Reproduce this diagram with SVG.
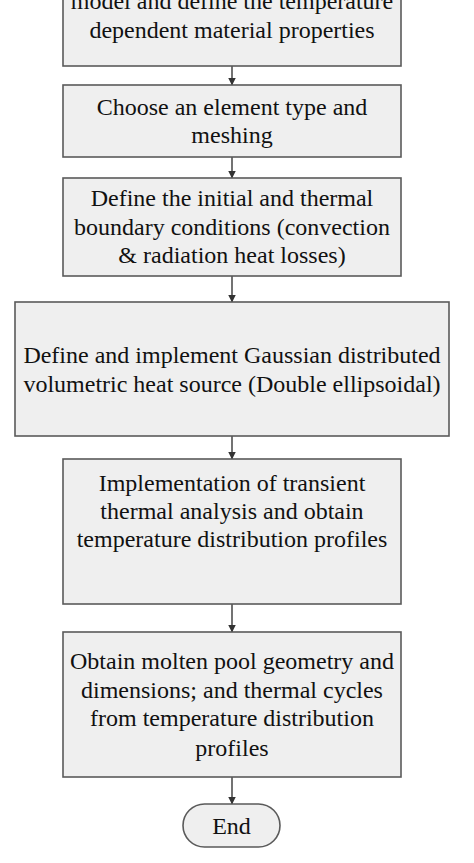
<svg xmlns="http://www.w3.org/2000/svg" width="474" height="863" viewBox="0 0 474 863">
<style>
.box{fill:#efefef;stroke:#5a5a5a;stroke-width:1.6}
.t{font-family:"Liberation Serif","Times New Roman",serif;font-size:24px;fill:#111;text-anchor:middle}
.c{stroke:#444;stroke-width:1.5;fill:none;marker-end:url(#ah)}
</style>
<defs>
<marker id="ah" markerWidth="8" markerHeight="10" refX="7.5" refY="4" orient="auto" markerUnits="userSpaceOnUse" viewBox="0 0 8 8">
<path d="M0,0 L8,4 L0,8 Z" fill="#333"/>
</marker>
</defs>
<rect width="474" height="863" fill="#fff"/>
<g id="connectors">
<line class="c" x1="232" y1="66" x2="232" y2="85"/>
<line class="c" x1="232" y1="157" x2="232" y2="178"/>
<line class="c" x1="232" y1="276" x2="232" y2="302"/>
<line class="c" x1="232" y1="436" x2="232" y2="459"/>
<line class="c" x1="232" y1="604" x2="232" y2="632"/>
<line class="c" x1="232" y1="777" x2="232" y2="804"/>
</g>
<g id="n1">
<rect class="box" x="63" y="-40" width="338" height="106"/>
<text class="t" x="232" y="9">model and define the temperature</text>
<text class="t" x="232" y="38">dependent material properties</text>
</g>
<g id="n2">
<rect class="box" x="63" y="85" width="338" height="72"/>
<text class="t" x="232" y="115">Choose an element type and</text>
<text class="t" x="232" y="143">meshing</text>
</g>
<g id="n3">
<rect class="box" x="63" y="178" width="338" height="98"/>
<text class="t" x="232" y="206">Define the initial and thermal</text>
<text class="t" x="232" y="234.5">boundary conditions (convection</text>
<text class="t" x="232" y="263">&amp; radiation heat losses)</text>
</g>
<g id="n4">
<rect class="box" x="15" y="302" width="434" height="134"/>
<text class="t" x="232" y="363">Define and implement Gaussian distributed</text>
<text class="t" x="232" y="391.5">volumetric heat source (Double ellipsoidal)</text>
</g>
<g id="n5">
<rect class="box" x="63" y="459" width="338" height="145"/>
<text class="t" x="232" y="490.5">Implementation of transient</text>
<text class="t" x="232" y="519">thermal analysis and obtain</text>
<text class="t" x="232" y="546.5">temperature distribution profiles</text>
</g>
<g id="n6">
<rect class="box" x="63" y="632" width="338" height="145"/>
<text class="t" x="232" y="669">Obtain molten pool geometry and</text>
<text class="t" x="232" y="697.5">dimensions; and thermal cycles</text>
<text class="t" x="232" y="726">from temperature distribution</text>
<text class="t" x="232" y="755.5">profiles</text>
</g>
<g id="end">
<rect class="box" x="183" y="804" width="97" height="43" rx="21.5" ry="21.5"/>
<text class="t" x="231.5" y="834">End</text>
</g>
</svg>
